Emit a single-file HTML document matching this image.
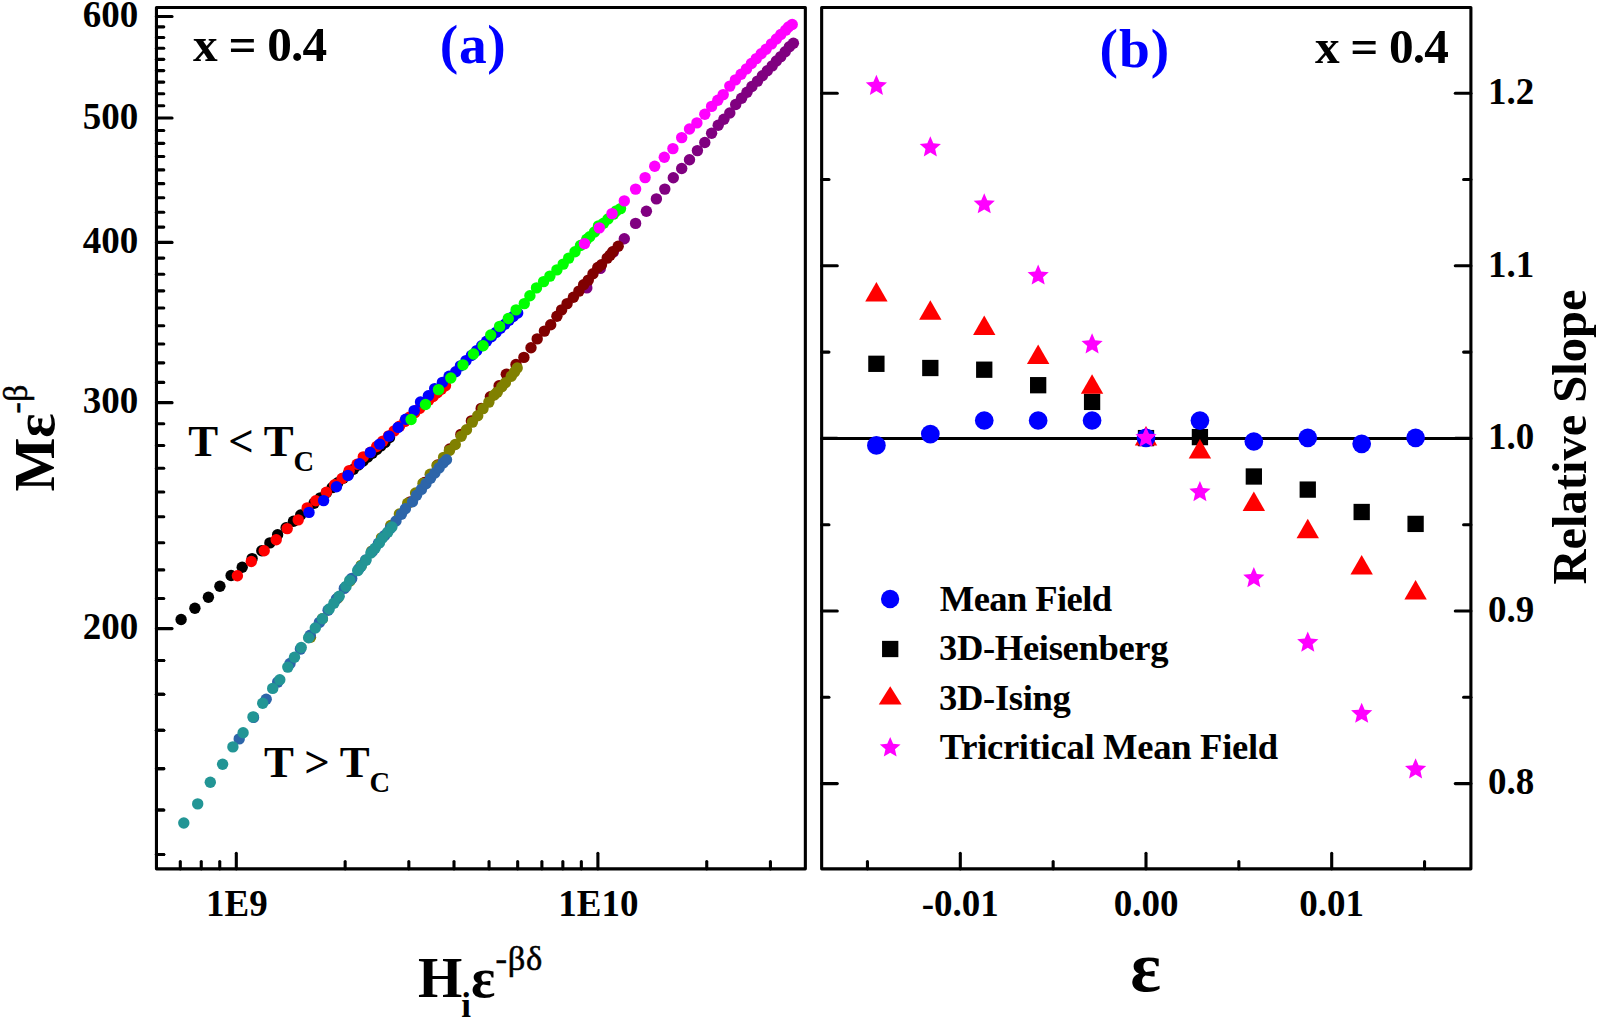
<!DOCTYPE html><html><head><meta charset="utf-8"><style>html,body{margin:0;padding:0;background:#fff;}svg{display:block;}</style></head><body><svg width="1599" height="1019" viewBox="0 0 1599 1019" font-family="'Liberation Serif', 'Times New Roman', serif">
<rect width="1599" height="1019" fill="#fff"/>
<line x1="156.45" y1="628.60" x2="172.05" y2="628.60" stroke="#000" stroke-width="3.1" stroke-linecap="round"/>
<line x1="156.45" y1="402.67" x2="172.05" y2="402.67" stroke="#000" stroke-width="3.1" stroke-linecap="round"/>
<line x1="156.45" y1="242.38" x2="172.05" y2="242.38" stroke="#000" stroke-width="3.1" stroke-linecap="round"/>
<line x1="156.45" y1="118.04" x2="172.05" y2="118.04" stroke="#000" stroke-width="3.1" stroke-linecap="round"/>
<line x1="156.45" y1="16.45" x2="172.05" y2="16.45" stroke="#000" stroke-width="3.1" stroke-linecap="round"/>
<line x1="156.45" y1="854.53" x2="163.75" y2="854.53" stroke="#000" stroke-width="3.1" stroke-linecap="round"/>
<line x1="156.45" y1="809.93" x2="163.75" y2="809.93" stroke="#000" stroke-width="3.1" stroke-linecap="round"/>
<line x1="156.45" y1="768.63" x2="163.75" y2="768.63" stroke="#000" stroke-width="3.1" stroke-linecap="round"/>
<line x1="156.45" y1="730.19" x2="163.75" y2="730.19" stroke="#000" stroke-width="3.1" stroke-linecap="round"/>
<line x1="156.45" y1="694.23" x2="163.75" y2="694.23" stroke="#000" stroke-width="3.1" stroke-linecap="round"/>
<line x1="156.45" y1="660.45" x2="163.75" y2="660.45" stroke="#000" stroke-width="3.1" stroke-linecap="round"/>
<line x1="156.45" y1="598.47" x2="163.75" y2="598.47" stroke="#000" stroke-width="3.1" stroke-linecap="round"/>
<line x1="156.45" y1="569.89" x2="163.75" y2="569.89" stroke="#000" stroke-width="3.1" stroke-linecap="round"/>
<line x1="156.45" y1="542.71" x2="163.75" y2="542.71" stroke="#000" stroke-width="3.1" stroke-linecap="round"/>
<line x1="156.45" y1="516.79" x2="163.75" y2="516.79" stroke="#000" stroke-width="3.1" stroke-linecap="round"/>
<line x1="156.45" y1="492.02" x2="163.75" y2="492.02" stroke="#000" stroke-width="3.1" stroke-linecap="round"/>
<line x1="156.45" y1="468.30" x2="163.75" y2="468.30" stroke="#000" stroke-width="3.1" stroke-linecap="round"/>
<line x1="156.45" y1="445.56" x2="163.75" y2="445.56" stroke="#000" stroke-width="3.1" stroke-linecap="round"/>
<line x1="156.45" y1="423.70" x2="163.75" y2="423.70" stroke="#000" stroke-width="3.1" stroke-linecap="round"/>
<line x1="156.45" y1="382.41" x2="163.75" y2="382.41" stroke="#000" stroke-width="3.1" stroke-linecap="round"/>
<line x1="156.45" y1="362.86" x2="163.75" y2="362.86" stroke="#000" stroke-width="3.1" stroke-linecap="round"/>
<line x1="156.45" y1="343.97" x2="163.75" y2="343.97" stroke="#000" stroke-width="3.1" stroke-linecap="round"/>
<line x1="156.45" y1="325.70" x2="163.75" y2="325.70" stroke="#000" stroke-width="3.1" stroke-linecap="round"/>
<line x1="156.45" y1="308.01" x2="163.75" y2="308.01" stroke="#000" stroke-width="3.1" stroke-linecap="round"/>
<line x1="156.45" y1="290.86" x2="163.75" y2="290.86" stroke="#000" stroke-width="3.1" stroke-linecap="round"/>
<line x1="156.45" y1="274.23" x2="163.75" y2="274.23" stroke="#000" stroke-width="3.1" stroke-linecap="round"/>
<line x1="156.45" y1="258.08" x2="163.75" y2="258.08" stroke="#000" stroke-width="3.1" stroke-linecap="round"/>
<line x1="156.45" y1="227.11" x2="163.75" y2="227.11" stroke="#000" stroke-width="3.1" stroke-linecap="round"/>
<line x1="156.45" y1="212.25" x2="163.75" y2="212.25" stroke="#000" stroke-width="3.1" stroke-linecap="round"/>
<line x1="156.45" y1="197.78" x2="163.75" y2="197.78" stroke="#000" stroke-width="3.1" stroke-linecap="round"/>
<line x1="156.45" y1="183.67" x2="163.75" y2="183.67" stroke="#000" stroke-width="3.1" stroke-linecap="round"/>
<line x1="156.45" y1="169.91" x2="163.75" y2="169.91" stroke="#000" stroke-width="3.1" stroke-linecap="round"/>
<line x1="156.45" y1="156.49" x2="163.75" y2="156.49" stroke="#000" stroke-width="3.1" stroke-linecap="round"/>
<line x1="156.45" y1="143.37" x2="163.75" y2="143.37" stroke="#000" stroke-width="3.1" stroke-linecap="round"/>
<line x1="156.45" y1="130.56" x2="163.75" y2="130.56" stroke="#000" stroke-width="3.1" stroke-linecap="round"/>
<line x1="156.45" y1="105.80" x2="163.75" y2="105.80" stroke="#000" stroke-width="3.1" stroke-linecap="round"/>
<line x1="156.45" y1="93.81" x2="163.75" y2="93.81" stroke="#000" stroke-width="3.1" stroke-linecap="round"/>
<line x1="156.45" y1="82.08" x2="163.75" y2="82.08" stroke="#000" stroke-width="3.1" stroke-linecap="round"/>
<line x1="156.45" y1="70.59" x2="163.75" y2="70.59" stroke="#000" stroke-width="3.1" stroke-linecap="round"/>
<line x1="156.45" y1="59.34" x2="163.75" y2="59.34" stroke="#000" stroke-width="3.1" stroke-linecap="round"/>
<line x1="156.45" y1="48.30" x2="163.75" y2="48.30" stroke="#000" stroke-width="3.1" stroke-linecap="round"/>
<line x1="156.45" y1="37.48" x2="163.75" y2="37.48" stroke="#000" stroke-width="3.1" stroke-linecap="round"/>
<line x1="156.45" y1="26.87" x2="163.75" y2="26.87" stroke="#000" stroke-width="3.1" stroke-linecap="round"/>
<line x1="156.45" y1="660.45" x2="163.75" y2="660.45" stroke="#000" stroke-width="3.1" stroke-linecap="round"/>
<line x1="156.45" y1="694.23" x2="163.75" y2="694.23" stroke="#000" stroke-width="3.1" stroke-linecap="round"/>
<line x1="156.45" y1="730.19" x2="163.75" y2="730.19" stroke="#000" stroke-width="3.1" stroke-linecap="round"/>
<line x1="156.45" y1="768.63" x2="163.75" y2="768.63" stroke="#000" stroke-width="3.1" stroke-linecap="round"/>
<line x1="156.45" y1="809.93" x2="163.75" y2="809.93" stroke="#000" stroke-width="3.1" stroke-linecap="round"/>
<line x1="156.45" y1="854.53" x2="163.75" y2="854.53" stroke="#000" stroke-width="3.1" stroke-linecap="round"/>
<line x1="236.30" y1="868.85" x2="236.30" y2="853.25" stroke="#000" stroke-width="3.1" stroke-linecap="round"/>
<line x1="597.90" y1="868.85" x2="597.90" y2="853.25" stroke="#000" stroke-width="3.1" stroke-linecap="round"/>
<line x1="180.29" y1="868.85" x2="180.29" y2="861.55" stroke="#000" stroke-width="3.1" stroke-linecap="round"/>
<line x1="201.26" y1="868.85" x2="201.26" y2="861.55" stroke="#000" stroke-width="3.1" stroke-linecap="round"/>
<line x1="219.75" y1="868.85" x2="219.75" y2="861.55" stroke="#000" stroke-width="3.1" stroke-linecap="round"/>
<line x1="345.15" y1="868.85" x2="345.15" y2="861.55" stroke="#000" stroke-width="3.1" stroke-linecap="round"/>
<line x1="408.83" y1="868.85" x2="408.83" y2="861.55" stroke="#000" stroke-width="3.1" stroke-linecap="round"/>
<line x1="454.00" y1="868.85" x2="454.00" y2="861.55" stroke="#000" stroke-width="3.1" stroke-linecap="round"/>
<line x1="489.05" y1="868.85" x2="489.05" y2="861.55" stroke="#000" stroke-width="3.1" stroke-linecap="round"/>
<line x1="517.68" y1="868.85" x2="517.68" y2="861.55" stroke="#000" stroke-width="3.1" stroke-linecap="round"/>
<line x1="541.89" y1="868.85" x2="541.89" y2="861.55" stroke="#000" stroke-width="3.1" stroke-linecap="round"/>
<line x1="562.86" y1="868.85" x2="562.86" y2="861.55" stroke="#000" stroke-width="3.1" stroke-linecap="round"/>
<line x1="581.35" y1="868.85" x2="581.35" y2="861.55" stroke="#000" stroke-width="3.1" stroke-linecap="round"/>
<line x1="706.75" y1="868.85" x2="706.75" y2="861.55" stroke="#000" stroke-width="3.1" stroke-linecap="round"/>
<line x1="770.43" y1="868.85" x2="770.43" y2="861.55" stroke="#000" stroke-width="3.1" stroke-linecap="round"/>
<line x1="821.65" y1="783.60" x2="837.25" y2="783.60" stroke="#000" stroke-width="3.1" stroke-linecap="round"/>
<line x1="1470.90" y1="783.60" x2="1455.30" y2="783.60" stroke="#000" stroke-width="3.1" stroke-linecap="round"/>
<line x1="821.65" y1="611.00" x2="837.25" y2="611.00" stroke="#000" stroke-width="3.1" stroke-linecap="round"/>
<line x1="1470.90" y1="611.00" x2="1455.30" y2="611.00" stroke="#000" stroke-width="3.1" stroke-linecap="round"/>
<line x1="821.65" y1="438.40" x2="837.25" y2="438.40" stroke="#000" stroke-width="3.1" stroke-linecap="round"/>
<line x1="1470.90" y1="438.40" x2="1455.30" y2="438.40" stroke="#000" stroke-width="3.1" stroke-linecap="round"/>
<line x1="821.65" y1="265.80" x2="837.25" y2="265.80" stroke="#000" stroke-width="3.1" stroke-linecap="round"/>
<line x1="1470.90" y1="265.80" x2="1455.30" y2="265.80" stroke="#000" stroke-width="3.1" stroke-linecap="round"/>
<line x1="821.65" y1="93.20" x2="837.25" y2="93.20" stroke="#000" stroke-width="3.1" stroke-linecap="round"/>
<line x1="1470.90" y1="93.20" x2="1455.30" y2="93.20" stroke="#000" stroke-width="3.1" stroke-linecap="round"/>
<line x1="821.65" y1="697.30" x2="828.95" y2="697.30" stroke="#000" stroke-width="3.1" stroke-linecap="round"/>
<line x1="1470.90" y1="697.30" x2="1463.60" y2="697.30" stroke="#000" stroke-width="3.1" stroke-linecap="round"/>
<line x1="821.65" y1="524.70" x2="828.95" y2="524.70" stroke="#000" stroke-width="3.1" stroke-linecap="round"/>
<line x1="1470.90" y1="524.70" x2="1463.60" y2="524.70" stroke="#000" stroke-width="3.1" stroke-linecap="round"/>
<line x1="821.65" y1="352.10" x2="828.95" y2="352.10" stroke="#000" stroke-width="3.1" stroke-linecap="round"/>
<line x1="1470.90" y1="352.10" x2="1463.60" y2="352.10" stroke="#000" stroke-width="3.1" stroke-linecap="round"/>
<line x1="821.65" y1="179.50" x2="828.95" y2="179.50" stroke="#000" stroke-width="3.1" stroke-linecap="round"/>
<line x1="1470.90" y1="179.50" x2="1463.60" y2="179.50" stroke="#000" stroke-width="3.1" stroke-linecap="round"/>
<line x1="960.30" y1="868.85" x2="960.30" y2="853.25" stroke="#000" stroke-width="3.1" stroke-linecap="round"/>
<line x1="1146.00" y1="868.85" x2="1146.00" y2="853.25" stroke="#000" stroke-width="3.1" stroke-linecap="round"/>
<line x1="1331.70" y1="868.85" x2="1331.70" y2="853.25" stroke="#000" stroke-width="3.1" stroke-linecap="round"/>
<line x1="867.45" y1="868.85" x2="867.45" y2="861.55" stroke="#000" stroke-width="3.1" stroke-linecap="round"/>
<line x1="1053.15" y1="868.85" x2="1053.15" y2="861.55" stroke="#000" stroke-width="3.1" stroke-linecap="round"/>
<line x1="1238.85" y1="868.85" x2="1238.85" y2="861.55" stroke="#000" stroke-width="3.1" stroke-linecap="round"/>
<line x1="1424.55" y1="868.85" x2="1424.55" y2="861.55" stroke="#000" stroke-width="3.1" stroke-linecap="round"/>
<text x="138.30" y="639.30" font-size="37" font-weight="bold" fill="#000" text-anchor="end" >200</text>
<text x="138.30" y="413.37" font-size="37" font-weight="bold" fill="#000" text-anchor="end" >300</text>
<text x="138.30" y="253.08" font-size="37" font-weight="bold" fill="#000" text-anchor="end" >400</text>
<text x="138.30" y="128.74" font-size="37" font-weight="bold" fill="#000" text-anchor="end" >500</text>
<text x="138.30" y="27.15" font-size="37" font-weight="bold" fill="#000" text-anchor="end" >600</text>
<text x="236.80" y="915.60" font-size="37" font-weight="bold" fill="#000" text-anchor="middle" >1E9</text>
<text x="598.40" y="915.60" font-size="37" font-weight="bold" fill="#000" text-anchor="middle" >1E10</text>
<text x="960.30" y="915.60" font-size="37" font-weight="bold" fill="#000" text-anchor="middle" >-0.01</text>
<text x="1146.00" y="915.60" font-size="37" font-weight="bold" fill="#000" text-anchor="middle" >0.00</text>
<text x="1331.70" y="915.60" font-size="37" font-weight="bold" fill="#000" text-anchor="middle" >0.01</text>
<text x="1487.94" y="104.00" font-size="37" font-weight="bold" fill="#000" text-anchor="start" >1.2</text>
<text x="1487.94" y="276.60" font-size="37" font-weight="bold" fill="#000" text-anchor="start" >1.1</text>
<text x="1487.94" y="449.20" font-size="37" font-weight="bold" fill="#000" text-anchor="start" >1.0</text>
<text x="1487.99" y="621.80" font-size="37" font-weight="bold" fill="#000" text-anchor="start" >0.9</text>
<text x="1487.99" y="794.40" font-size="37" font-weight="bold" fill="#000" text-anchor="start" >0.8</text>
<line x1="821.65" y1="438.40" x2="1470.90" y2="438.40" stroke="#000" stroke-width="3.0" stroke-linecap="butt"/>
<g fill="#000000"><circle cx="181.1" cy="619.5" r="5.7"/><circle cx="194.9" cy="608.2" r="5.7"/><circle cx="208.4" cy="597.2" r="5.7"/><circle cx="219.9" cy="586.3" r="5.7"/><circle cx="231.1" cy="575.5" r="5.7"/><circle cx="242.2" cy="567.3" r="5.7"/><circle cx="252.1" cy="558.6" r="5.7"/><circle cx="261.8" cy="550.8" r="5.7"/><circle cx="269.9" cy="542.9" r="5.7"/><circle cx="277.6" cy="534.7" r="5.7"/><circle cx="286.1" cy="527.8" r="5.7"/><circle cx="293.5" cy="521.2" r="5.7"/><circle cx="300.7" cy="515.0" r="5.7"/><circle cx="307.5" cy="509.0" r="5.7"/><circle cx="314.1" cy="503.3" r="5.7"/><circle cx="320.3" cy="497.9" r="5.7"/><circle cx="326.4" cy="492.6" r="5.7"/><circle cx="332.2" cy="487.6" r="5.7"/><circle cx="337.8" cy="482.8" r="5.7"/><circle cx="343.2" cy="478.1" r="5.7"/><circle cx="348.5" cy="473.6" r="5.7"/><circle cx="353.5" cy="469.2" r="5.7"/><circle cx="358.4" cy="465.0" r="5.7"/><circle cx="363.2" cy="461.0" r="5.7"/><circle cx="367.8" cy="457.0" r="5.7"/><circle cx="372.3" cy="453.2" r="5.7"/><circle cx="376.7" cy="449.5" r="5.7"/><circle cx="380.9" cy="445.9" r="5.7"/><circle cx="385.0" cy="442.4" r="5.7"/><circle cx="389.5" cy="437.5" r="5.7"/></g>
<g fill="#ff0000"><circle cx="237.4" cy="575.8" r="5.7"/><circle cx="251.3" cy="561.5" r="5.7"/><circle cx="264.2" cy="550.8" r="5.7"/><circle cx="276.2" cy="539.8" r="5.7"/><circle cx="287.2" cy="528.6" r="5.7"/><circle cx="298.2" cy="519.9" r="5.7"/><circle cx="307.2" cy="507.9" r="5.7"/><circle cx="315.8" cy="500.8" r="5.7"/><circle cx="326.4" cy="492.2" r="5.7"/><circle cx="334.6" cy="484.7" r="5.7"/><circle cx="342.1" cy="478.5" r="5.7"/><circle cx="349.2" cy="470.6" r="5.7"/><circle cx="357.1" cy="464.3" r="5.7"/><circle cx="363.3" cy="456.9" r="5.7"/><circle cx="370.5" cy="452.2" r="5.7"/><circle cx="376.7" cy="446.5" r="5.7"/><circle cx="382.8" cy="441.1" r="5.7"/><circle cx="388.6" cy="435.9" r="5.7"/><circle cx="394.2" cy="430.9" r="5.7"/><circle cx="399.6" cy="426.1" r="5.7"/><circle cx="404.9" cy="421.4" r="5.7"/><circle cx="409.9" cy="416.9" r="5.7"/><circle cx="414.8" cy="412.6" r="5.7"/><circle cx="419.6" cy="408.4" r="5.7"/><circle cx="424.2" cy="404.3" r="5.7"/><circle cx="428.7" cy="400.3" r="5.7"/><circle cx="433.1" cy="396.5" r="5.7"/><circle cx="437.3" cy="392.8" r="5.7"/><circle cx="441.4" cy="389.2" r="5.7"/><circle cx="445.5" cy="385.7" r="5.7"/></g>
<g fill="#0000ff"><circle cx="309.0" cy="512.4" r="5.7"/><circle cx="323.6" cy="500.6" r="5.7"/><circle cx="336.5" cy="486.8" r="5.7"/><circle cx="348.0" cy="475.5" r="5.7"/><circle cx="359.6" cy="463.7" r="5.7"/><circle cx="370.3" cy="452.5" r="5.7"/><circle cx="379.7" cy="444.1" r="5.7"/><circle cx="389.1" cy="436.1" r="5.7"/><circle cx="398.1" cy="427.4" r="5.7"/><circle cx="405.6" cy="419.3" r="5.7"/><circle cx="414.2" cy="410.6" r="5.7"/><circle cx="420.5" cy="402.0" r="5.7"/><circle cx="428.4" cy="395.7" r="5.7"/><circle cx="434.7" cy="388.6" r="5.7"/><circle cx="442.4" cy="382.4" r="5.7"/><circle cx="449.1" cy="376.2" r="5.7"/><circle cx="455.7" cy="371.8" r="5.7"/><circle cx="460.4" cy="365.9" r="5.7"/><circle cx="466.0" cy="360.6" r="5.7"/><circle cx="471.4" cy="355.5" r="5.7"/><circle cx="476.7" cy="350.6" r="5.7"/><circle cx="481.7" cy="345.8" r="5.7"/><circle cx="486.6" cy="341.2" r="5.7"/><circle cx="491.4" cy="336.8" r="5.7"/><circle cx="496.0" cy="332.4" r="5.7"/><circle cx="500.5" cy="328.3" r="5.7"/><circle cx="504.9" cy="324.2" r="5.7"/><circle cx="509.1" cy="320.3" r="5.7"/><circle cx="513.2" cy="316.5" r="5.7"/><circle cx="517.7" cy="313.0" r="5.7"/></g>
<g fill="#00ff00"><circle cx="411.1" cy="419.5" r="5.7"/><circle cx="425.5" cy="404.5" r="5.7"/><circle cx="438.5" cy="389.6" r="5.7"/><circle cx="450.8" cy="378.0" r="5.7"/><circle cx="463.0" cy="364.9" r="5.7"/><circle cx="473.5" cy="354.0" r="5.7"/><circle cx="483.1" cy="345.7" r="5.7"/><circle cx="490.7" cy="335.0" r="5.7"/><circle cx="499.6" cy="326.4" r="5.7"/><circle cx="508.3" cy="318.5" r="5.7"/><circle cx="516.1" cy="309.9" r="5.7"/><circle cx="524.3" cy="303.6" r="5.7"/><circle cx="529.9" cy="295.8" r="5.7"/><circle cx="536.5" cy="287.9" r="5.7"/><circle cx="543.6" cy="281.6" r="5.7"/><circle cx="549.9" cy="276.1" r="5.7"/><circle cx="556.9" cy="269.9" r="5.7"/><circle cx="563.2" cy="264.1" r="5.7"/><circle cx="568.7" cy="258.1" r="5.7"/><circle cx="575.0" cy="251.8" r="5.7"/><circle cx="580.5" cy="245.5" r="5.7"/><circle cx="586.8" cy="239.3" r="5.7"/><circle cx="589.7" cy="236.7" r="5.7"/><circle cx="594.5" cy="232.0" r="5.7"/><circle cx="598.5" cy="225.9" r="5.7"/><circle cx="603.6" cy="223.2" r="5.7"/><circle cx="608.0" cy="219.0" r="5.7"/><circle cx="613.5" cy="214.1" r="5.7"/><circle cx="616.3" cy="210.9" r="5.7"/><circle cx="620.5" cy="208.6" r="5.7"/></g>
<g fill="#ff00ff"><circle cx="584.5" cy="243.6" r="5.7"/><circle cx="599.3" cy="227.9" r="5.7"/><circle cx="612.0" cy="213.6" r="5.7"/><circle cx="624.3" cy="200.9" r="5.7"/><circle cx="635.6" cy="189.1" r="5.7"/><circle cx="645.1" cy="177.6" r="5.7"/><circle cx="654.7" cy="166.3" r="5.7"/><circle cx="664.3" cy="157.2" r="5.7"/><circle cx="672.9" cy="148.6" r="5.7"/><circle cx="681.7" cy="137.6" r="5.7"/><circle cx="689.5" cy="129.0" r="5.7"/><circle cx="696.9" cy="122.9" r="5.7"/><circle cx="704.8" cy="114.3" r="5.7"/><circle cx="711.6" cy="106.4" r="5.7"/><circle cx="717.8" cy="100.3" r="5.7"/><circle cx="723.2" cy="94.6" r="5.7"/><circle cx="729.8" cy="86.1" r="5.7"/><circle cx="735.4" cy="79.9" r="5.7"/><circle cx="741.1" cy="74.3" r="5.7"/><circle cx="746.5" cy="68.9" r="5.7"/><circle cx="751.4" cy="63.5" r="5.7"/><circle cx="756.3" cy="58.6" r="5.7"/><circle cx="761.2" cy="53.7" r="5.7"/><circle cx="766.1" cy="49.3" r="5.7"/><circle cx="771.5" cy="43.9" r="5.7"/><circle cx="776.4" cy="39.0" r="5.7"/><circle cx="780.8" cy="34.5" r="5.7"/><circle cx="785.7" cy="30.1" r="5.7"/><circle cx="788.5" cy="27.0" r="5.7"/><circle cx="792.2" cy="24.5" r="5.7"/></g>
<g fill="#800080"><circle cx="586.8" cy="287.9" r="5.7"/><circle cx="600.3" cy="268.4" r="5.7"/><circle cx="613.4" cy="251.9" r="5.7"/><circle cx="624.3" cy="238.7" r="5.7"/><circle cx="635.6" cy="223.4" r="5.7"/><circle cx="646.4" cy="211.2" r="5.7"/><circle cx="656.4" cy="198.9" r="5.7"/><circle cx="664.8" cy="189.1" r="5.7"/><circle cx="673.3" cy="177.8" r="5.7"/><circle cx="681.7" cy="168.5" r="5.7"/><circle cx="689.5" cy="159.7" r="5.7"/><circle cx="697.4" cy="150.6" r="5.7"/><circle cx="704.8" cy="142.5" r="5.7"/><circle cx="711.6" cy="133.2" r="5.7"/><circle cx="718.2" cy="125.3" r="5.7"/><circle cx="723.9" cy="119.2" r="5.7"/><circle cx="729.8" cy="113.0" r="5.7"/><circle cx="735.7" cy="104.5" r="5.7"/><circle cx="741.6" cy="98.3" r="5.7"/><circle cx="747.0" cy="92.2" r="5.7"/><circle cx="751.9" cy="86.5" r="5.7"/><circle cx="757.5" cy="81.1" r="5.7"/><circle cx="762.4" cy="75.8" r="5.7"/><circle cx="767.3" cy="70.8" r="5.7"/><circle cx="772.2" cy="65.9" r="5.7"/><circle cx="776.4" cy="61.0" r="5.7"/><circle cx="780.8" cy="56.6" r="5.7"/><circle cx="785.2" cy="51.7" r="5.7"/><circle cx="789.4" cy="46.8" r="5.7"/><circle cx="793.4" cy="43.2" r="5.7"/></g>
<g fill="#800000"><circle cx="410.2" cy="501.9" r="5.7"/><circle cx="424.5" cy="482.5" r="5.7"/><circle cx="437.6" cy="465.0" r="5.7"/><circle cx="449.7" cy="449.0" r="5.7"/><circle cx="460.9" cy="434.4" r="5.7"/><circle cx="471.4" cy="420.9" r="5.7"/><circle cx="481.2" cy="408.4" r="5.7"/><circle cx="490.4" cy="396.7" r="5.7"/><circle cx="499.1" cy="385.8" r="5.7"/><circle cx="506.3" cy="374.2" r="5.7"/><circle cx="516.0" cy="364.5" r="5.7"/><circle cx="523.9" cy="357.4" r="5.7"/><circle cx="531.0" cy="347.7" r="5.7"/><circle cx="537.2" cy="338.9" r="5.7"/><circle cx="544.4" cy="331.1" r="5.7"/><circle cx="550.7" cy="324.8" r="5.7"/><circle cx="556.9" cy="316.2" r="5.7"/><circle cx="561.6" cy="309.9" r="5.7"/><circle cx="567.1" cy="303.6" r="5.7"/><circle cx="573.4" cy="297.3" r="5.7"/><circle cx="578.9" cy="291.1" r="5.7"/><circle cx="583.6" cy="284.8" r="5.7"/><circle cx="588.3" cy="280.1" r="5.7"/><circle cx="593.0" cy="273.8" r="5.7"/><circle cx="597.8" cy="267.5" r="5.7"/><circle cx="601.5" cy="264.7" r="5.7"/><circle cx="607.2" cy="258.1" r="5.7"/><circle cx="610.1" cy="255.1" r="5.7"/><circle cx="612.7" cy="251.8" r="5.7"/><circle cx="618.2" cy="246.3" r="5.7"/></g>
<g fill="#808000"><circle cx="310.5" cy="637.2" r="5.7"/><circle cx="322.4" cy="618.7" r="5.7"/><circle cx="337.9" cy="597.9" r="5.7"/><circle cx="350.0" cy="581.0" r="5.7"/><circle cx="361.2" cy="565.4" r="5.7"/><circle cx="371.7" cy="551.1" r="5.7"/><circle cx="381.5" cy="537.9" r="5.7"/><circle cx="390.7" cy="525.5" r="5.7"/><circle cx="399.4" cy="514.0" r="5.7"/><circle cx="407.7" cy="503.2" r="5.7"/><circle cx="415.6" cy="493.0" r="5.7"/><circle cx="423.0" cy="483.4" r="5.7"/><circle cx="430.2" cy="474.2" r="5.7"/><circle cx="437.0" cy="465.6" r="5.7"/><circle cx="443.6" cy="457.4" r="5.7"/><circle cx="449.4" cy="450.4" r="5.7"/><circle cx="455.3" cy="444.5" r="5.7"/><circle cx="461.2" cy="436.3" r="5.7"/><circle cx="466.5" cy="429.8" r="5.7"/><circle cx="472.4" cy="422.1" r="5.7"/><circle cx="477.7" cy="415.7" r="5.7"/><circle cx="483.0" cy="408.6" r="5.7"/><circle cx="488.9" cy="402.1" r="5.7"/><circle cx="494.2" cy="395.0" r="5.7"/><circle cx="497.3" cy="392.1" r="5.7"/><circle cx="501.8" cy="386.8" r="5.7"/><circle cx="505.4" cy="382.7" r="5.7"/><circle cx="511.3" cy="376.2" r="5.7"/><circle cx="514.5" cy="372.0" r="5.7"/><circle cx="517.2" cy="368.0" r="5.7"/></g>
<g fill="#2d65a9"><circle cx="239.2" cy="738.9" r="5.7"/><circle cx="253.5" cy="717.4" r="5.7"/><circle cx="266.2" cy="699.2" r="5.7"/><circle cx="277.7" cy="682.1" r="5.7"/><circle cx="290.0" cy="663.5" r="5.7"/><circle cx="300.4" cy="649.1" r="5.7"/><circle cx="310.2" cy="635.2" r="5.7"/><circle cx="319.4" cy="622.4" r="5.7"/><circle cx="328.1" cy="610.3" r="5.7"/><circle cx="336.4" cy="599.0" r="5.7"/><circle cx="344.3" cy="588.4" r="5.7"/><circle cx="351.7" cy="578.4" r="5.7"/><circle cx="358.9" cy="568.9" r="5.7"/><circle cx="365.7" cy="560.0" r="5.7"/><circle cx="372.3" cy="551.4" r="5.7"/><circle cx="378.5" cy="543.3" r="5.7"/><circle cx="384.6" cy="535.5" r="5.7"/><circle cx="390.4" cy="528.1" r="5.7"/><circle cx="396.0" cy="521.0" r="5.7"/><circle cx="401.4" cy="514.2" r="5.7"/><circle cx="405.4" cy="508.8" r="5.7"/><circle cx="412.5" cy="501.8" r="5.7"/><circle cx="416.6" cy="495.2" r="5.7"/><circle cx="421.4" cy="489.4" r="5.7"/><circle cx="426.0" cy="483.7" r="5.7"/><circle cx="430.5" cy="478.3" r="5.7"/><circle cx="434.9" cy="473.0" r="5.7"/><circle cx="439.1" cy="467.9" r="5.7"/><circle cx="443.2" cy="462.9" r="5.7"/><circle cx="446.5" cy="459.8" r="5.7"/></g>
<g fill="#229595"><circle cx="183.8" cy="823.0" r="5.7"/><circle cx="197.7" cy="803.9" r="5.7"/><circle cx="210.3" cy="782.2" r="5.7"/><circle cx="222.6" cy="764.2" r="5.7"/><circle cx="232.9" cy="746.9" r="5.7"/><circle cx="243.1" cy="732.8" r="5.7"/><circle cx="253.0" cy="716.9" r="5.7"/><circle cx="262.7" cy="703.3" r="5.7"/><circle cx="272.7" cy="688.4" r="5.7"/><circle cx="279.8" cy="679.8" r="5.7"/><circle cx="287.8" cy="667.1" r="5.7"/><circle cx="294.5" cy="657.2" r="5.7"/><circle cx="301.2" cy="647.5" r="5.7"/><circle cx="308.6" cy="637.7" r="5.7"/><circle cx="315.3" cy="628.0" r="5.7"/><circle cx="322.4" cy="618.7" r="5.7"/><circle cx="329.2" cy="609.0" r="5.7"/><circle cx="333.9" cy="603.3" r="5.7"/><circle cx="339.2" cy="596.2" r="5.7"/><circle cx="346.0" cy="586.4" r="5.7"/><circle cx="349.8" cy="580.4" r="5.7"/><circle cx="357.7" cy="570.6" r="5.7"/><circle cx="361.2" cy="566.3" r="5.7"/><circle cx="366.0" cy="560.1" r="5.7"/><circle cx="370.9" cy="553.0" r="5.7"/><circle cx="375.1" cy="548.3" r="5.7"/><circle cx="379.5" cy="542.7" r="5.7"/><circle cx="382.4" cy="538.0" r="5.7"/><circle cx="387.8" cy="532.1" r="5.7"/><circle cx="391.9" cy="527.0" r="5.7"/></g>
<path d="M156.45,7.45H805.35V868.85H156.45Z" fill="none" stroke="#000" stroke-width="3.1" stroke-linejoin="round"/>
<path d="M821.65,7.45H1470.9V868.85H821.65Z" fill="none" stroke="#000" stroke-width="3.1" stroke-linejoin="round"/>
<rect x="868.25" y="355.65" width="16.3" height="16.3" fill="#000"/>
<rect x="922.17" y="359.85" width="16.3" height="16.3" fill="#000"/>
<rect x="976.09" y="361.55" width="16.3" height="16.3" fill="#000"/>
<rect x="1030.01" y="377.05" width="16.3" height="16.3" fill="#000"/>
<rect x="1083.93" y="393.75" width="16.3" height="16.3" fill="#000"/>
<rect x="1137.85" y="429.95" width="16.3" height="16.3" fill="#000"/>
<rect x="1191.77" y="428.95" width="16.3" height="16.3" fill="#000"/>
<rect x="1245.69" y="468.35" width="16.3" height="16.3" fill="#000"/>
<rect x="1299.61" y="481.45" width="16.3" height="16.3" fill="#000"/>
<rect x="1353.53" y="503.85" width="16.3" height="16.3" fill="#000"/>
<rect x="1407.45" y="515.75" width="16.3" height="16.3" fill="#000"/>
<path d="M876.40,282.00L887.60,301.50L865.20,301.50Z" fill="#f00"/>
<path d="M930.32,300.20L941.52,319.70L919.12,319.70Z" fill="#f00"/>
<path d="M984.24,315.50L995.44,335.00L973.04,335.00Z" fill="#f00"/>
<path d="M1038.16,344.40L1049.36,363.90L1026.96,363.90Z" fill="#f00"/>
<path d="M1092.08,374.20L1103.28,393.70L1080.88,393.70Z" fill="#f00"/>
<path d="M1146.00,425.90L1157.20,445.40L1134.80,445.40Z" fill="#f00"/>
<path d="M1199.92,439.10L1211.12,458.60L1188.72,458.60Z" fill="#f00"/>
<path d="M1253.84,491.40L1265.04,510.90L1242.64,510.90Z" fill="#f00"/>
<path d="M1307.76,518.80L1318.96,538.30L1296.56,538.30Z" fill="#f00"/>
<path d="M1361.68,554.90L1372.88,574.40L1350.48,574.40Z" fill="#f00"/>
<path d="M1415.60,579.90L1426.80,599.40L1404.40,599.40Z" fill="#f00"/>
<circle cx="876.40" cy="445.40" r="9.35" fill="#00f"/>
<circle cx="930.32" cy="434.10" r="9.35" fill="#00f"/>
<circle cx="984.24" cy="420.50" r="9.35" fill="#00f"/>
<circle cx="1038.16" cy="420.50" r="9.35" fill="#00f"/>
<circle cx="1092.08" cy="420.50" r="9.35" fill="#00f"/>
<circle cx="1146.00" cy="437.80" r="9.35" fill="#00f"/>
<circle cx="1199.92" cy="420.60" r="9.35" fill="#00f"/>
<circle cx="1253.84" cy="441.50" r="9.35" fill="#00f"/>
<circle cx="1307.76" cy="437.80" r="9.35" fill="#00f"/>
<circle cx="1361.68" cy="443.80" r="9.35" fill="#00f"/>
<circle cx="1415.60" cy="437.80" r="9.35" fill="#00f"/>
<polygon points="876.40,74.75 879.40,81.77 887.00,82.45 881.25,87.48 882.95,94.92 876.40,91.00 869.85,94.92 871.55,87.48 865.80,82.45 873.40,81.77" fill="#f0f"/>
<polygon points="930.32,136.25 933.32,143.27 940.92,143.95 935.17,148.98 936.87,156.42 930.32,152.50 923.77,156.42 925.47,148.98 919.72,143.95 927.32,143.27" fill="#f0f"/>
<polygon points="984.24,193.15 987.24,200.17 994.84,200.85 989.09,205.88 990.79,213.32 984.24,209.40 977.69,213.32 979.39,205.88 973.64,200.85 981.24,200.17" fill="#f0f"/>
<polygon points="1038.16,264.45 1041.16,271.47 1048.76,272.15 1043.01,277.18 1044.71,284.62 1038.16,280.70 1031.61,284.62 1033.31,277.18 1027.56,272.15 1035.16,271.47" fill="#f0f"/>
<polygon points="1092.08,333.25 1095.08,340.27 1102.68,340.95 1096.93,345.98 1098.63,353.42 1092.08,349.50 1085.53,353.42 1087.23,345.98 1081.48,340.95 1089.08,340.27" fill="#f0f"/>
<polygon points="1146.00,426.65 1149.00,433.67 1156.60,434.35 1150.85,439.38 1152.55,446.82 1146.00,442.90 1139.45,446.82 1141.15,439.38 1135.40,434.35 1143.00,433.67" fill="#f0f"/>
<polygon points="1199.92,481.05 1202.92,488.07 1210.52,488.75 1204.77,493.78 1206.47,501.22 1199.92,497.30 1193.37,501.22 1195.07,493.78 1189.32,488.75 1196.92,488.07" fill="#f0f"/>
<polygon points="1253.84,567.05 1256.84,574.07 1264.44,574.75 1258.69,579.78 1260.39,587.22 1253.84,583.30 1247.29,587.22 1248.99,579.78 1243.24,574.75 1250.84,574.07" fill="#f0f"/>
<polygon points="1307.76,631.55 1310.76,638.57 1318.36,639.25 1312.61,644.28 1314.31,651.72 1307.76,647.80 1301.21,651.72 1302.91,644.28 1297.16,639.25 1304.76,638.57" fill="#f0f"/>
<polygon points="1361.68,702.65 1364.68,709.67 1372.28,710.35 1366.53,715.38 1368.23,722.82 1361.68,718.90 1355.13,722.82 1356.83,715.38 1351.08,710.35 1358.68,709.67" fill="#f0f"/>
<polygon points="1415.60,758.25 1418.60,765.27 1426.20,765.95 1420.45,770.98 1422.15,778.42 1415.60,774.50 1409.05,778.42 1410.75,770.98 1405.00,765.95 1412.60,765.27" fill="#f0f"/>
<circle cx="890.10" cy="599.00" r="9.15" fill="#00f"/>
<rect x="882.05" y="640.85" width="16.3" height="16.3" fill="#000"/>
<path d="M890.20,686.20L901.65,704.50L878.75,704.50Z" fill="#f00"/>
<polygon points="890.20,736.90 893.14,743.75 900.57,744.43 894.96,749.35 896.61,756.62 890.20,752.80 883.79,756.62 885.44,749.35 879.83,744.43 887.26,743.75" fill="#f0f"/>
<text x="939.77" y="610.90" font-size="36.6" font-weight="bold" fill="#000" text-anchor="start" textLength="172.3" lengthAdjust="spacing" >Mean Field</text>
<text x="939.02" y="660.30" font-size="36.6" font-weight="bold" fill="#000" text-anchor="start" textLength="229.5" lengthAdjust="spacing" >3D-Heisenberg</text>
<text x="939.02" y="709.60" font-size="36.6" font-weight="bold" fill="#000" text-anchor="start" textLength="131.9" lengthAdjust="spacing" >3D-Ising</text>
<text x="939.83" y="759.00" font-size="36.6" font-weight="bold" fill="#000" text-anchor="start" textLength="338.3" lengthAdjust="spacing" >Tricritical Mean Field</text>
<text x="193.11" y="60.80" font-size="49.3" font-weight="bold" fill="#000" text-anchor="start" textLength="134.0" lengthAdjust="spacing" >x = 0.4</text>
<text x="1314.91" y="63.30" font-size="49.3" font-weight="bold" fill="#000" text-anchor="start" textLength="134.1" lengthAdjust="spacing" >x = 0.4</text>
<text x="439.86" y="63.30" font-size="55.5" font-weight="bold" fill="#0000ff" text-anchor="start" textLength="65.9" lengthAdjust="spacing" >(a)</text>
<text x="1099.56" y="67.20" font-size="55.5" font-weight="bold" fill="#0000ff" text-anchor="start" textLength="69.7" lengthAdjust="spacing" >(b)</text>
<text x="188.20" y="456.10" font-size="44.8" font-weight="bold" fill="#000" text-anchor="start" textLength="105.5" lengthAdjust="spacing" >T &lt; T</text>
<text x="293.51" y="471.10" font-size="28.5" font-weight="bold" fill="#000" text-anchor="start" >C</text>
<text x="264.10" y="777.10" font-size="44.8" font-weight="bold" fill="#000" text-anchor="start" textLength="105.6" lengthAdjust="spacing" >T &gt; T</text>
<text x="369.51" y="792.20" font-size="28.5" font-weight="bold" fill="#000" text-anchor="start" >C</text>
<text transform="translate(54.3,491.6) rotate(-90)" font-size="57" font-weight="bold">M<tspan>ε</tspan><tspan font-size="34" font-weight="normal" stroke="#000" stroke-width="0.55" dy="-27.2">-β</tspan></text>
<text x="418.0" y="996.8" font-size="57" font-weight="bold">H<tspan font-size="35" dx="-1" dy="19.7">i</tspan><tspan dy="-19.7">ε</tspan><tspan font-size="34.5" font-weight="normal" stroke="#000" stroke-width="0.55" dy="-27.1" letter-spacing="0.8">-βδ</tspan></text>
<text x="1130.3" y="990.8" font-size="72" font-weight="bold">ε</text>
<text transform="translate(1585.9,584.43) rotate(-90)" font-size="48.5" font-weight="bold">Relative Slope</text>
</svg></body></html>
